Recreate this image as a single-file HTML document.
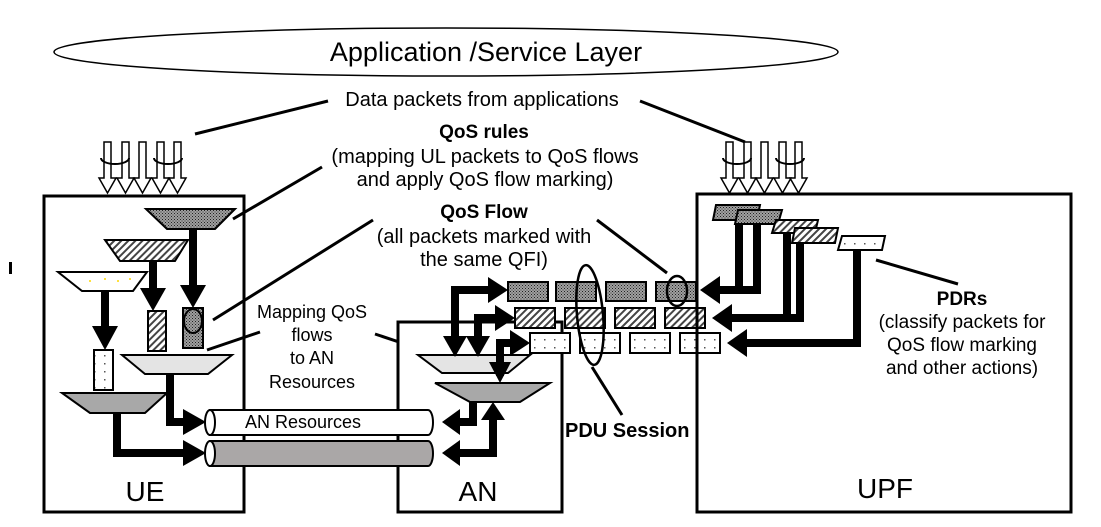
<!DOCTYPE html>
<html><head><meta charset="utf-8"><style>
html,body{margin:0;padding:0;background:#fff;}
svg{display:block;}
text{font-family:"Liberation Sans",sans-serif;fill:#000;}
</style></head><body>
<svg width="1101" height="527" viewBox="0 0 1101 527" xmlns="http://www.w3.org/2000/svg">
<defs>
<pattern id="dk" width="3" height="3" patternUnits="userSpaceOnUse"><rect width="3" height="3" fill="#a0a0a0"/><rect width="1" height="1" fill="#222"/><rect x="1.5" y="1.5" width="1" height="1" fill="#333"/></pattern>
<pattern id="hz" width="5" height="5" patternUnits="userSpaceOnUse" patternTransform="rotate(45)"><rect width="5" height="5" fill="#fff"/><rect width="2" height="5" fill="#444"/></pattern>
<pattern id="dt" width="10" height="8" patternUnits="userSpaceOnUse"><rect width="10" height="8" fill="#fff"/><rect x="4" y="3" width="1.5" height="1.5" fill="#555"/></pattern>
</defs>
<rect x="9" y="262" width="3" height="12" fill="#000"/>
<ellipse cx="446" cy="52" rx="392" ry="24" fill="#fff" stroke="#000" stroke-width="1.5"/>
<text x="486" y="61" font-size="27" text-anchor="middle">Application /Service Layer</text>
<text x="482" y="106" font-size="20" text-anchor="middle">Data packets from applications</text>
<line x1="328" y1="101" x2="195" y2="134" stroke="#000" stroke-width="3"/>
<line x1="640" y1="101" x2="745" y2="142" stroke="#000" stroke-width="3"/>
<text x="484" y="138" font-size="19" font-weight="bold" text-anchor="middle">QoS rules</text>
<text x="485" y="163" font-size="20" text-anchor="middle">(mapping UL packets to QoS flows</text>
<text x="485" y="186" font-size="20" text-anchor="middle">and apply QoS flow marking)</text>
<line x1="322" y1="167" x2="233" y2="219" stroke="#000" stroke-width="3"/>
<text x="484" y="218" font-size="19" font-weight="bold" text-anchor="middle">QoS Flow</text>
<text x="484" y="243" font-size="20" text-anchor="middle">(all packets marked with</text>
<text x="484" y="266" font-size="20" text-anchor="middle">the same QFI)</text>
<line x1="373" y1="220" x2="213" y2="320" stroke="#000" stroke-width="3"/>
<line x1="597" y1="220" x2="667" y2="273" stroke="#000" stroke-width="3"/>

<g fill="#fff" stroke="#000" stroke-width="1.5">
<path d="M104,142h7v36h5l-8.5,15l-8.5,-15h5z"/>
<path d="M122,142h7v36h5l-8.5,15l-8.5,-15h5z"/>
<path d="M139,142h7v36h5l-8.5,15l-8.5,-15h5z"/>
<path d="M157,142h7v36h5l-8.5,15l-8.5,-15h5z"/>
<path d="M174,142h7v36h5l-8.5,15l-8.5,-15h5z"/>
<path d="M726,142h7v36h5l-8.5,15l-8.5,-15h5z"/>
<path d="M744,142h7v36h5l-8.5,15l-8.5,-15h5z"/>
<path d="M761,142h7v36h5l-8.5,15l-8.5,-15h5z"/>
<path d="M779,142h7v36h5l-8.5,15l-8.5,-15h5z"/>
<path d="M795,142h7v36h5l-8.5,15l-8.5,-15h5z"/>
</g>
<g fill="none" stroke="#000" stroke-width="2">
<path d="M101,158 a14,6 0 1,0 28,0"/><path d="M154,158 a14,6 0 1,0 28,0"/>
<path d="M723,158 a14,6 0 1,0 28,0"/><path d="M776,158 a14,6 0 1,0 28,0"/>
</g>

<rect x="44" y="196" width="200" height="316" fill="none" stroke="#000" stroke-width="3"/>
<text x="145" y="501" font-size="28" text-anchor="middle">UE</text>
<g stroke="#000" stroke-width="2">
<polygon points="146,209 235,209 215,229 167,229" fill="url(#dk)"/>
<polygon points="105,240 188,240 175,261 120,261" fill="url(#hz)"/>
<polygon points="58,272 147,272 133,291 82,291" fill="#fff"/>
<rect x="183" y="308" width="20" height="40" fill="url(#dk)"/>
<rect x="148" y="311" width="18" height="40" fill="url(#hz)"/>
<rect x="94" y="350" width="19" height="40" fill="url(#dt)"/>
<polygon points="122,355 232,355 208,374 145,374" fill="#e4e4e4"/>
<polygon points="62,393 167,393 145,413 90,413" fill="#a8a8a8"/>
</g>
<g fill="#ffd700"><circle cx="90" cy="281" r="1"/><circle cx="105" cy="279" r="1"/><circle cx="118" cy="281" r="1"/><circle cx="130" cy="279" r="1"/></g>
<g stroke="#000" stroke-width="8" fill="none">
<line x1="193" y1="229" x2="193" y2="287"/>
<line x1="153" y1="261" x2="153" y2="290"/>
<line x1="105" y1="291" x2="105" y2="328"/>
<polyline points="170,374 170,422 186,422"/>
<polyline points="117,413 117,453 186,453"/>
</g>
<g fill="#000">
<polygon points="180,285 206,285 193,308"/>
<polygon points="140,288 166,288 153,311"/>
<polygon points="92,326 118,326 105,350"/>
<polygon points="183,409 183,435 206,422"/>
<polygon points="183,440 183,466 206,453"/>
</g>
<ellipse cx="193" cy="321" rx="9" ry="12" fill="none" stroke="#000" stroke-width="2"/>
<line x1="260" y1="332" x2="207" y2="350" stroke="#000" stroke-width="3"/>
<text x="312" y="318" font-size="18" text-anchor="middle">Mapping QoS</text>
<text x="312" y="341" font-size="18" text-anchor="middle">flows</text>
<text x="312" y="364" font-size="18" text-anchor="middle">to AN</text>
<text x="312" y="388" font-size="18" text-anchor="middle">Resources</text>
<line x1="375" y1="334" x2="423" y2="350" stroke="#000" stroke-width="3"/>

<rect x="398" y="322" width="164" height="190" fill="#fff" stroke="#000" stroke-width="3"/>
<text x="478" y="501" font-size="28" text-anchor="middle">AN</text>

<g stroke="#000" stroke-width="2">
<path d="M210,410 H428 a5,12.5 0 0,1 0,25 H210 z" fill="#fff"/>
<ellipse cx="210" cy="422.5" rx="5" ry="12.5" fill="#fff"/>
<path d="M210,441 H428 a5,12.5 0 0,1 0,25 H210 z" fill="#aaa7a7"/>
<ellipse cx="210" cy="453.5" rx="5" ry="12.5" fill="#fff"/>
</g>
<text x="303" y="428" font-size="18" text-anchor="middle">AN Resources</text>

<g stroke="#000" stroke-width="2">
<polygon points="418,355 530,355 508,373 442,373" fill="#e4e4e4"/>
<polygon points="435,383 550,383 520,402 470,402" fill="#a8a8a8"/>
</g>
<g stroke="#000" stroke-width="8" fill="none">
<polyline points="455,340 455,290 490,290"/>
<polyline points="478,340 478,318 497,318"/>
<polyline points="500,376 500,343 512,343"/>
<polyline points="473,402 473,422 458,422"/>
<polyline points="460,453 493,453 493,418"/>
</g>
<g fill="#000">
<polygon points="488,277 488,303 508,290"/>
<polygon points="495,305 495,331 515,318"/>
<polygon points="510,330 510,356 530,343"/>
<polygon points="443,336 467,336 455,357"/>
<polygon points="466,336 490,336 478,357"/>
<polygon points="489,362 511,362 500,383"/>
<polygon points="460,409 460,435 442,422"/>
<polygon points="460,440 460,466 442,453"/>
<polygon points="481,420 505,420 493,402"/>
</g>

<g stroke="#000" stroke-width="2">
<rect x="508" y="282" width="40" height="19" fill="url(#dk)"/>
<rect x="556" y="282" width="40" height="19" fill="url(#dk)"/>
<rect x="606" y="282" width="40" height="19" fill="url(#dk)"/>
<rect x="656" y="282" width="40" height="19" fill="url(#dk)"/>
<rect x="515" y="308" width="40" height="20" fill="url(#hz)"/>
<rect x="565" y="308" width="40" height="20" fill="url(#hz)"/>
<rect x="615" y="308" width="40" height="20" fill="url(#hz)"/>
<rect x="665" y="308" width="40" height="20" fill="url(#hz)"/>
<rect x="530" y="333" width="40" height="20" fill="url(#dt)"/>
<rect x="580" y="333" width="40" height="20" fill="url(#dt)"/>
<rect x="630" y="333" width="40" height="20" fill="url(#dt)"/>
<rect x="680" y="333" width="40" height="20" fill="url(#dt)"/>
</g>
<ellipse cx="677" cy="291" rx="10" ry="15" fill="none" stroke="#000" stroke-width="2.5"/>
<ellipse cx="590" cy="315" rx="13" ry="50" fill="none" stroke="#000" stroke-width="2.5" transform="rotate(-5 590 315)"/>
<line x1="592" y1="367" x2="622" y2="415" stroke="#000" stroke-width="3"/>
<text x="565" y="437" font-size="20" font-weight="bold">PDU Session</text>

<rect x="697" y="194" width="374" height="318" fill="none" stroke="#000" stroke-width="3"/>
<text x="885" y="498" font-size="28" text-anchor="middle">UPF</text>
<g stroke="#000" stroke-width="8" fill="none">
<line x1="739" y1="218" x2="739" y2="290"/>
<line x1="757" y1="222" x2="757" y2="294"/>
<line x1="761" y1="290" x2="718" y2="290"/>
<line x1="787" y1="231" x2="787" y2="318"/>
<line x1="800" y1="241" x2="800" y2="322"/>
<line x1="804" y1="318" x2="730" y2="318"/>
<line x1="857" y1="248" x2="857" y2="343"/>
<line x1="861" y1="343" x2="745" y2="343"/>
</g>
<g fill="#000">
<polygon points="720,276 720,304 700,290"/>
<polygon points="732,304 732,332 712,318"/>
<polygon points="747,329 747,357 727,343"/>
</g>
<g stroke="#000" stroke-width="2">
<polygon points="716,205 760,205 757,220 713,220" fill="url(#dk)"/>
<polygon points="738,210 782,210 778,224 735,224" fill="url(#dk)"/>
<polygon points="776,220 818,220 815,233 772,233" fill="url(#hz)"/>
<polygon points="795,228 838,228 835,243 792,243" fill="url(#hz)"/>
<polygon points="842,236 885,236 882,250 838,250" fill="url(#dt)"/>
</g>
<line x1="876" y1="260" x2="958" y2="284" stroke="#000" stroke-width="3"/>
<text x="962" y="305" font-size="19" font-weight="bold" text-anchor="middle">PDRs</text>
<text x="962" y="328" font-size="19" text-anchor="middle">(classify packets for</text>
<text x="962" y="351" font-size="19" text-anchor="middle">QoS flow marking</text>
<text x="962" y="374" font-size="19" text-anchor="middle">and other actions)</text>
</svg>
</body></html>
